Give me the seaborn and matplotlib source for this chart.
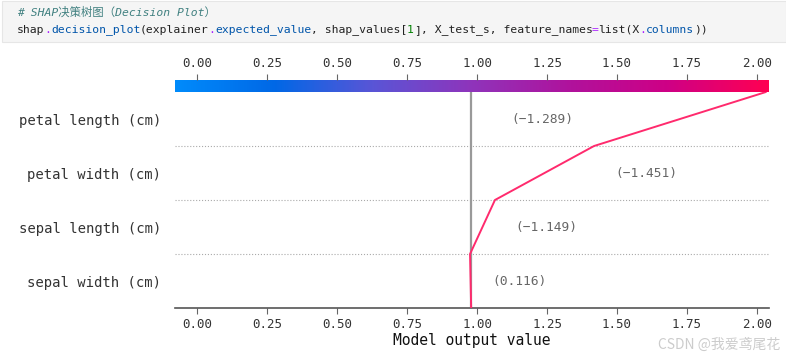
import matplotlib
matplotlib.use("Agg")
import matplotlib.pyplot as plt
import seaborn as sns
import numpy as np
from matplotlib.colors import LinearSegmentedColormap, Normalize
from matplotlib.patches import Rectangle

# Daten (von unten nach oben)
features = ['sepal width (cm)', 'sepal length (cm)', 'petal width (cm)', 'petal length (cm)']
feature_values = ['0.116', '-1.149', '-1.451', '-1.289']
base_value = 0.979
shap_contrib = [-0.004, 0.089, 0.354, 0.614]
x_ticks = [0.0, 0.25, 0.5, 0.75, 1.0, 1.25, 1.5, 1.75, 2.0]
x_limits = (-0.079, 2.043)

code_comment = '# SHAP决策树图（Decision Plot）'
code_tokens = [('shap', '#222222'), ('.', '#aa22ff'), ('decision_plot', '#0055aa'),
               ('(explainer', '#222222'), ('.', '#aa22ff'), ('expected_value', '#0055aa'),
               (', shap_values[', '#222222'), ('1', '#008000'), (']', '#222222'),
               (', X_test_s, feature_names', '#222222'), ('=', '#aa22ff'),
               ('list(X', '#222222'), ('.', '#aa22ff'), ('columns', '#0055aa'), ('))', '#222222')]

sns.set_style("white")
plt.rcParams['font.family'] = ['DejaVu Sans Mono', 'Noto Sans CJK SC']

W, H = 786, 360
fig = plt.figure(figsize=(W / 100, H / 100), dpi=100)

# Code-Zelle oben
fig.patches.append(Rectangle((2 / W, 1 - 42 / H), 1 - 2 / W, 41 / H, transform=fig.transFigure,
                             facecolor='#f5f5f5', edgecolor='#e6e6e6', lw=0.8, zorder=0))
fig.text(17 / W, 1 - 12 / H, code_comment, fontsize=8.2, color='#408080', style='italic',
         va='center', ha='left')
char_w = 6.84
pos = 0
for tok, col in code_tokens:
    fig.text((17 + pos * char_w) / W, 1 - 30 / H, tok, fontsize=8.2, color=col,
             va='center', ha='left')
    pos += len(tok)

# Farbskala wie bei SHAP
cmap = LinearSegmentedColormap.from_list(
    'shap_rb', ['#008bfb', '#0068e6', '#5a55d6', '#8f34bb', '#b0129c', '#cf0085', '#ff0052'])
norm = Normalize(vmin=x_limits[0], vmax=x_limits[1])

ax_l, ax_r = 175 / W, 769 / W
ax_b, ax_t = 1 - 308 / H, 1 - 92 / H
ax = fig.add_axes([ax_l, ax_b, ax_r - ax_l, ax_t - ax_b])
cax = fig.add_axes([ax_l, ax_t, ax_r - ax_l, 12 / H])

# Entscheidungspfad
n = len(features)
path_x = base_value + np.concatenate([[0], np.cumsum(shap_contrib)])
path_y = np.arange(n + 1)
ax.axvline(base_value, color='#999999', lw=1.6, zorder=1)
for yy in range(1, n):
    ax.axhline(yy, color='#aaaaaa', ls=':', lw=0.8, zorder=0)
sns.lineplot(x=path_x, y=path_y, sort=False, estimator=None, ax=ax,
             color='#ff2a6d', lw=1.4, zorder=3)

# Merkmalswerte in Klammern
for i, val in enumerate(feature_values):
    seg = path_x[i:i + 2]
    lbl = '(' + val.replace('-', '\u2212') + ')'
    if i < n - 1:
        ax.annotate(lbl, (seg.max(), i + 0.5), xytext=(15, 0), textcoords='offset points',
                    ha='left', va='center', fontsize=9.3, color='#666666')
    else:
        ax.annotate(lbl, (seg.min(), i + 0.5), xytext=(-15, 0), textcoords='offset points',
                    ha='right', va='center', fontsize=9.3, color='#666666')

ax.set_xlim(*x_limits)
ax.set_ylim(0, n)
ax.set_yticks(np.arange(n) + 0.5)
ax.set_yticklabels(features, fontsize=10, color='#333333')
ax.set_xticks(x_ticks)
ax.set_xticklabels([f'{t:.2f}' for t in x_ticks], fontsize=9, color='#333333')
ax.tick_params(axis='y', length=0, pad=10)
ax.tick_params(axis='x', length=4, width=0.8, color='#666666', pad=3, bottom=True)
for s in ['top', 'left', 'right']:
    ax.spines[s].set_visible(False)
ax.spines['bottom'].set_color('#555555')
ax.spines['bottom'].set_linewidth(1.2)
ax.set_xlabel('Model output value', fontsize=10.5, color='#111111', labelpad=2)
ax.set_ylabel('')

# Farbbalken oben
grad = np.linspace(x_limits[0], x_limits[1], 512)[None, :]
cax.imshow(grad, aspect='auto', cmap=cmap, norm=norm,
           extent=(x_limits[0], x_limits[1], 0, 1))
cax.set_xlim(*x_limits)
cax.set_yticks([])
cax.set_xticks(x_ticks)
cax.set_xticklabels([f'{t:.2f}' for t in x_ticks], fontsize=9, color='#333333')
cax.xaxis.set_ticks_position('top')
cax.tick_params(axis='x', length=4, width=0.8, color='#666666', pad=3, top=True, bottom=False)
for s in cax.spines.values():
    s.set_visible(False)

fig.text(780 / W, 1 - 345 / H, 'CSDN @我爱鸢尾花', fontsize=10, color='#cccccc',
         family=['Noto Sans CJK SC', 'DejaVu Sans'], ha='right', va='center')

fig.savefig('out.png', dpi=100)
